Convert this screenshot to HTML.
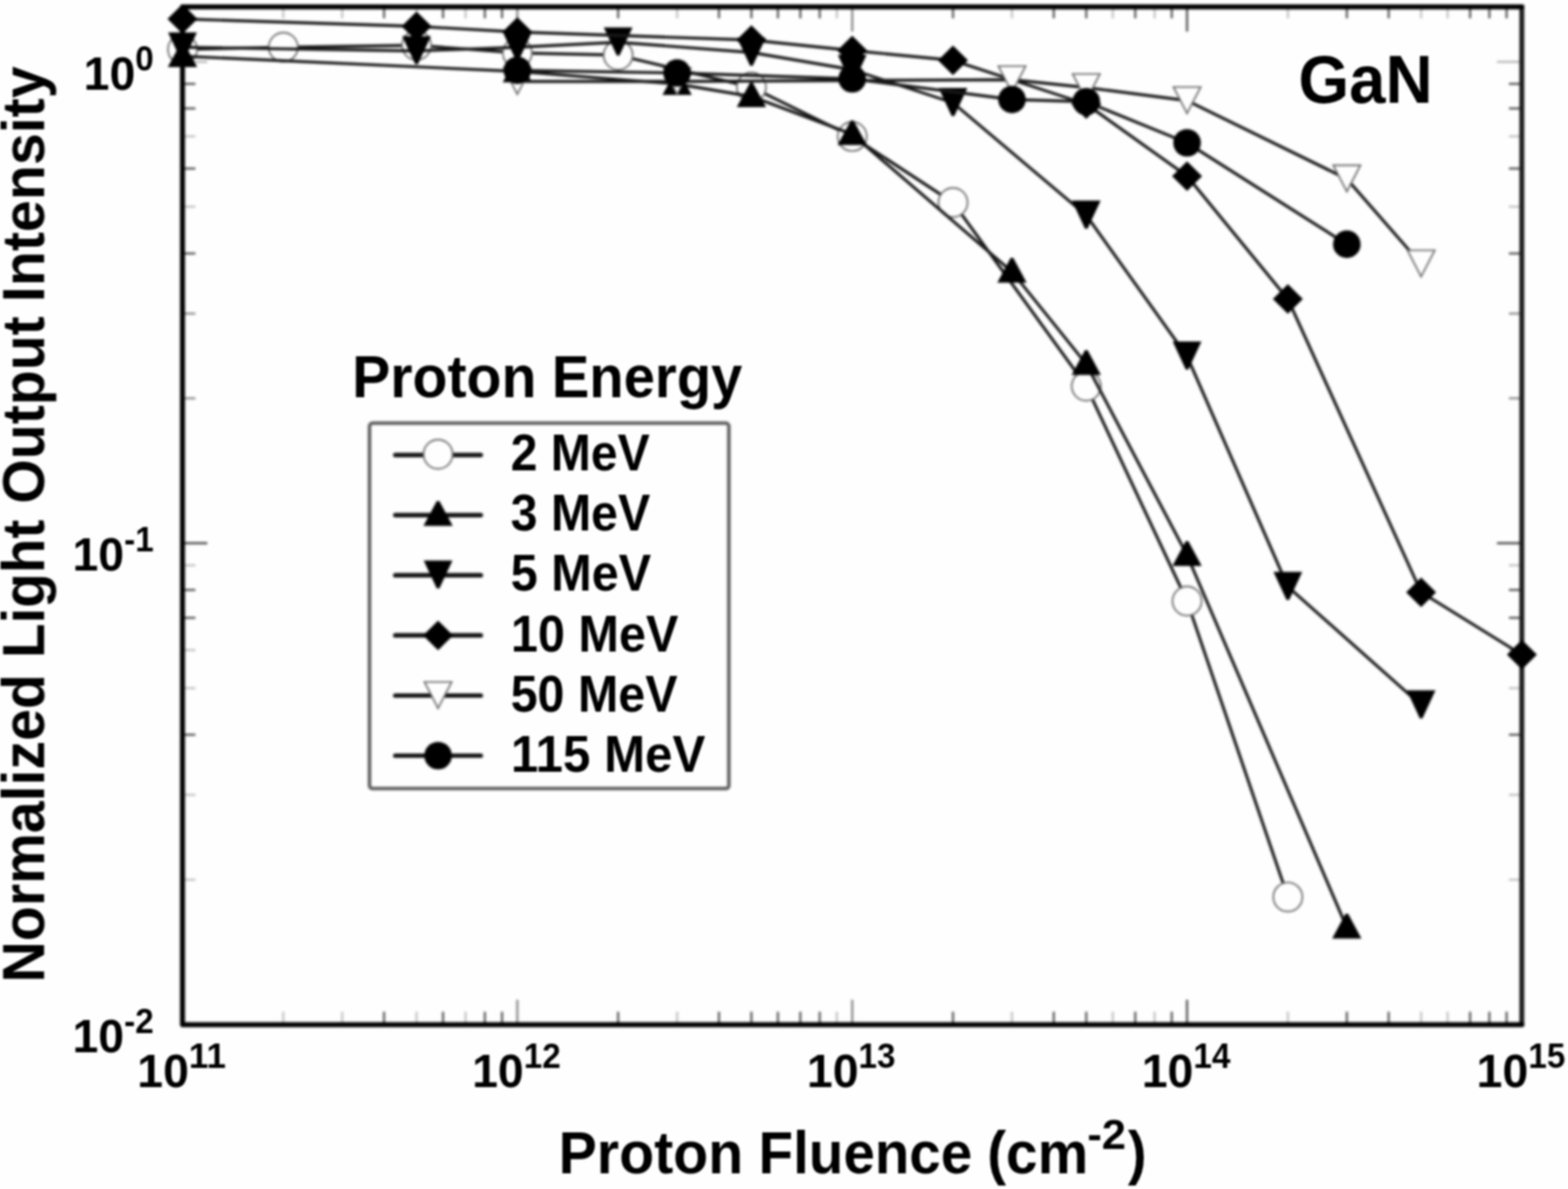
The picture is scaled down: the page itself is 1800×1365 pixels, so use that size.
<!DOCTYPE html>
<html lang="en"><head><meta charset="utf-8"><title>GaN proton fluence</title>
<style>html,body{margin:0;padding:0;background:#fefefe;}body{width:1800px;height:1365px;overflow:hidden;}svg{display:block;}text{font-family:"Liberation Sans",sans-serif;font-weight:bold;fill:#000;}</style>
</head><body>
<svg width="1800" height="1365" viewBox="0 0 1800 1365">
<defs><filter id="b" x="-5%" y="-5%" width="110%" height="110%" color-interpolation-filters="sRGB"><feGaussianBlur stdDeviation="1.4"/></filter>
<filter id="b2" x="-5%" y="-5%" width="110%" height="110%" color-interpolation-filters="sRGB"><feGaussianBlur stdDeviation="1.2"/></filter>
<clipPath id="clip"><rect x="0" y="4.8" width="1800" height="1400"/></clipPath></defs>
<rect width="1800" height="1365" fill="#fefefe"/>
<g filter="url(#b)">
<path d="M325.2 1176.3v-14.8M325.2 7.8v13.2M392.9 1176.3v-14.8M392.9 7.8v13.2M478.2 1176.3v-14.8M478.2 7.8v13.2M534.4 1176.3v-14.8M534.4 7.8v13.2M777.3 1176.3v-14.8M777.3 7.8v13.2M960.7 1176.3v-14.8M960.7 7.8v13.2M1161.7 1176.3v-14.8M1161.7 7.8v13.2M1277.4 1176.3v-14.8M1277.4 7.8v13.2M1325.4 1176.3v-14.8M1325.4 7.8v13.2M1478.4 1176.3v-14.8M1478.4 7.8v13.2M1631.4 1176.3v-14.8M1631.4 7.8v13.2M1661.8 1176.3v-14.8M1661.8 7.8v13.2M209.5 156.6h14.8M1747.0 156.6h-14.8M209.5 237.3h14.8M1747.0 237.3h-14.8M209.5 648.9h14.8M1747.0 648.9h-14.8M209.5 746.2h14.8M1747.0 746.2h-14.8M209.5 789.9h14.8M1747.0 789.9h-14.8M209.5 912.5h14.8M1747.0 912.5h-14.8M209.5 1009.9h14.8M1747.0 1009.9h-14.8" fill="none" stroke="#c4c4c4" stroke-width="2.5"/>
<path d="M209.5 359.9h14.8M1747.0 359.9h-14.8M209.5 457.3h14.8M1747.0 457.3h-14.8" fill="none" stroke="#909090" stroke-width="2.5"/>
<path d="M440.9 1176.3v-14.8M440.9 7.8v13.2M508.6 1176.3v-14.8M508.6 7.8v13.2M556.6 1176.3v-14.8M556.6 7.8v13.2M576.3 1176.3v-14.8M576.3 7.8v13.2M709.6 1176.3v-14.8M709.6 7.8v13.2M825.3 1176.3v-14.8M825.3 7.8v13.2M862.6 1176.3v-14.8M862.6 7.8v13.2M893.0 1176.3v-14.8M893.0 7.8v13.2M918.8 1176.3v-14.8M918.8 7.8v13.2M941.0 1176.3v-14.8M941.0 7.8v13.2M1094.0 1176.3v-14.8M1094.0 7.8v13.2M1209.7 1176.3v-14.8M1209.7 7.8v13.2M1247.0 1176.3v-14.8M1247.0 7.8v13.2M1303.2 1176.3v-14.8M1303.2 7.8v13.2M1345.1 1176.3v-14.8M1345.1 7.8v13.2M1546.1 1176.3v-14.8M1546.1 7.8v13.2M1594.1 1176.3v-14.8M1594.1 7.8v13.2M1687.6 1176.3v-14.8M1687.6 7.8v13.2M1709.8 1176.3v-14.8M1709.8 7.8v13.2M1729.5 1176.3v-14.8M1729.5 7.8v13.2M209.5 96.3h14.8M1747.0 96.3h-14.8M209.5 124.6h14.8M1747.0 124.6h-14.8M209.5 193.6h14.8M1747.0 193.6h-14.8M209.5 290.9h14.8M1747.0 290.9h-14.8M209.5 677.2h14.8M1747.0 677.2h-14.8M209.5 709.2h14.8M1747.0 709.2h-14.8M209.5 843.5h14.8M1747.0 843.5h-14.8" fill="none" stroke="#5a5a5a" stroke-width="2.5"/>
<path d="M209.5 71.0h28.5M1747.0 71.0h-28.5" fill="none" stroke="#b8b8b8" stroke-width="2.6"/>
<path d="M593.9 1176.3v-28.5M593.9 7.8v28.5M978.3 1176.3v-28.5M978.3 7.8v28.5" fill="none" stroke="#8c8c8c" stroke-width="2.6"/>
<path d="M1362.7 1176.3v-28.5M1362.7 7.8v28.5M209.5 623.6h28.5M1747.0 623.6h-28.5" fill="none" stroke="#5a5a5a" stroke-width="2.6"/>
<path d="M1747.0 7.8V1176.3" fill="none" stroke="#1c1c1c" stroke-width="5.6" stroke-linecap="round"/>
<path d="M1747.0 7.8H209.5V1176.3H1747.0" fill="none" stroke="#000" stroke-width="5.7" stroke-linejoin="round" stroke-linecap="round"/>
<g clip-path="url(#clip)">
<polyline points="209.5,56.7 325.2,54.2 478.2,52.0 593.9,60.7 709.6,63.3 862.6,100.0 978.3,156.7 1094.0,232.5 1247.0,443.3 1362.7,690.0 1478.4,1029.8" fill="none" stroke="#181818" stroke-width="3.4" stroke-linejoin="round"/>
<circle cx="209.5" cy="56.7" r="16.7" fill="#fefefe" stroke="#6c6c6c" stroke-width="1.9"/>
<circle cx="325.2" cy="54.2" r="16.7" fill="#fefefe" stroke="#6c6c6c" stroke-width="1.9"/>
<circle cx="478.2" cy="52.0" r="16.7" fill="#fefefe" stroke="#6c6c6c" stroke-width="1.9"/>
<circle cx="593.9" cy="60.7" r="16.7" fill="#fefefe" stroke="#6c6c6c" stroke-width="1.9"/>
<circle cx="709.6" cy="63.3" r="16.7" fill="#fefefe" stroke="#6c6c6c" stroke-width="1.9"/>
<circle cx="862.6" cy="100.0" r="16.7" fill="#fefefe" stroke="#6c6c6c" stroke-width="1.9"/>
<circle cx="978.3" cy="156.7" r="16.7" fill="#fefefe" stroke="#6c6c6c" stroke-width="1.9"/>
<circle cx="1094.0" cy="232.5" r="16.7" fill="#fefefe" stroke="#6c6c6c" stroke-width="1.9"/>
<circle cx="1247.0" cy="443.3" r="16.7" fill="#fefefe" stroke="#6c6c6c" stroke-width="1.9"/>
<circle cx="1362.7" cy="690.0" r="16.7" fill="#fefefe" stroke="#6c6c6c" stroke-width="1.9"/>
<circle cx="1478.4" cy="1029.8" r="16.7" fill="#fefefe" stroke="#6c6c6c" stroke-width="1.9"/>
<polyline points="209.5,64.5 593.9,82.0 777.3,96.5 862.6,110.7 978.3,154.2 1161.7,312.0 1247.0,418.0 1362.7,637.3 1546.1,1065.0" fill="none" stroke="#181818" stroke-width="3.4" stroke-linejoin="round"/>
<path d="M208.0 48.5L211.0 48.5L226.3 76.9L192.7 76.9Z" fill="#000"/>
<path d="M592.4 66.0L595.4 66.0L610.7 94.4L577.1 94.4Z" fill="#000"/>
<path d="M775.8 80.5L778.8 80.5L794.1 108.9L760.5 108.9Z" fill="#000"/>
<path d="M861.1 94.7L864.1 94.7L879.4 123.1L845.8 123.1Z" fill="#000"/>
<path d="M976.8 138.2L979.8 138.2L995.1 166.6L961.5 166.6Z" fill="#000"/>
<path d="M1160.2 296.0L1163.2 296.0L1178.5 324.4L1144.9 324.4Z" fill="#000"/>
<path d="M1245.5 402.0L1248.5 402.0L1263.8 430.4L1230.2 430.4Z" fill="#000"/>
<path d="M1361.2 621.3L1364.2 621.3L1379.5 649.7L1345.9 649.7Z" fill="#000"/>
<path d="M1544.6 1049.0L1547.6 1049.0L1562.9 1077.4L1529.3 1077.4Z" fill="#000"/>
<polyline points="209.5,54.2 478.2,58.5 593.9,54.3 709.6,48.5 862.6,60.2 978.3,80.0 1094.0,118.0 1247.0,247.2 1362.7,409.0 1478.4,673.5 1631.4,809.5" fill="none" stroke="#181818" stroke-width="3.4" stroke-linejoin="round"/>
<path d="M211.0 69.4L208.0 69.4L193.0 37.2L226.0 37.2Z" fill="#000"/>
<path d="M479.7 73.7L476.7 73.7L461.7 41.5L494.7 41.5Z" fill="#000"/>
<path d="M595.4 69.5L592.4 69.5L577.4 37.3L610.4 37.3Z" fill="#000"/>
<path d="M711.1 63.7L708.1 63.7L693.1 31.5L726.1 31.5Z" fill="#000"/>
<path d="M864.1 75.4L861.1 75.4L846.1 43.2L879.1 43.2Z" fill="#000"/>
<path d="M979.8 95.2L976.8 95.2L961.8 63.0L994.8 63.0Z" fill="#000"/>
<path d="M1095.5 133.2L1092.5 133.2L1077.5 101.0L1110.5 101.0Z" fill="#000"/>
<path d="M1248.5 262.4L1245.5 262.4L1230.5 230.2L1263.5 230.2Z" fill="#000"/>
<path d="M1364.2 424.2L1361.2 424.2L1346.2 392.0L1379.2 392.0Z" fill="#000"/>
<path d="M1479.9 688.7L1476.9 688.7L1461.9 656.5L1494.9 656.5Z" fill="#000"/>
<path d="M1632.9 824.7L1629.9 824.7L1614.9 792.5L1647.9 792.5Z" fill="#000"/>
<polyline points="209.5,21.7 478.2,30.3 593.9,36.7 862.6,46.0 978.3,58.0 1094.0,69.3 1247.0,119.5 1362.7,202.2 1478.4,343.3 1631.4,679.9 1747.1,751.6" fill="none" stroke="#181818" stroke-width="3.4" stroke-linejoin="round"/>
<path d="M209.5 4.7L226.7 21.7L209.5 38.7L192.3 21.7Z" fill="#000"/>
<path d="M478.2 13.3L495.4 30.3L478.2 47.3L461.0 30.3Z" fill="#000"/>
<path d="M593.9 19.7L611.1 36.7L593.9 53.7L576.7 36.7Z" fill="#000"/>
<path d="M862.6 29.0L879.8 46.0L862.6 63.0L845.4 46.0Z" fill="#000"/>
<path d="M978.3 41.0L995.5 58.0L978.3 75.0L961.1 58.0Z" fill="#000"/>
<path d="M1094.0 52.3L1111.2 69.3L1094.0 86.3L1076.8 69.3Z" fill="#000"/>
<path d="M1247.0 102.5L1264.2 119.5L1247.0 136.5L1229.8 119.5Z" fill="#000"/>
<path d="M1362.7 185.2L1379.9 202.2L1362.7 219.2L1345.5 202.2Z" fill="#000"/>
<path d="M1478.4 326.3L1495.6 343.3L1478.4 360.3L1461.2 343.3Z" fill="#000"/>
<path d="M1631.4 662.9L1648.6 679.9L1631.4 696.9L1614.2 679.9Z" fill="#000"/>
<path d="M1747.1 734.6L1764.3 751.6L1747.1 768.6L1729.9 751.6Z" fill="#000"/>
<polyline points="593.9,93.5 777.3,93.5 1161.7,91.5 1247.0,100.5 1362.7,115.5 1546.1,205.4 1631.4,303.0" fill="none" stroke="#181818" stroke-width="3.4" stroke-linejoin="round"/>
<path d="M593.9 108.1L609.5 77.9L578.3 77.9Z" fill="#fefefe" stroke="#6c6c6c" stroke-width="1.9" stroke-linejoin="miter"/>
<path d="M777.3 108.1L792.9 77.9L761.7 77.9Z" fill="#fefefe" stroke="#6c6c6c" stroke-width="1.9" stroke-linejoin="miter"/>
<path d="M1161.7 106.1L1177.3 75.9L1146.1 75.9Z" fill="#fefefe" stroke="#6c6c6c" stroke-width="1.9" stroke-linejoin="miter"/>
<path d="M1247.0 115.1L1262.6 84.9L1231.4 84.9Z" fill="#fefefe" stroke="#6c6c6c" stroke-width="1.9" stroke-linejoin="miter"/>
<path d="M1362.7 130.1L1378.3 99.9L1347.1 99.9Z" fill="#fefefe" stroke="#6c6c6c" stroke-width="1.9" stroke-linejoin="miter"/>
<path d="M1546.1 220.0L1561.7 189.8L1530.5 189.8Z" fill="#fefefe" stroke="#6c6c6c" stroke-width="1.9" stroke-linejoin="miter"/>
<path d="M1631.4 317.6L1647.0 287.4L1615.8 287.4Z" fill="#fefefe" stroke="#6c6c6c" stroke-width="1.9" stroke-linejoin="miter"/>
<polyline points="593.9,80.7 777.3,83.8 978.3,90.5 1161.7,114.2 1247.0,116.7 1362.7,164.0 1546.1,280.4" fill="none" stroke="#181818" stroke-width="3.4" stroke-linejoin="round"/>
<circle cx="593.9" cy="80.7" r="15.8" fill="#000"/>
<circle cx="777.3" cy="83.8" r="15.8" fill="#000"/>
<circle cx="978.3" cy="90.5" r="15.8" fill="#000"/>
<circle cx="1161.7" cy="114.2" r="15.8" fill="#000"/>
<circle cx="1247.0" cy="116.7" r="15.8" fill="#000"/>
<circle cx="1362.7" cy="164.0" r="15.8" fill="#000"/>
<circle cx="1546.1" cy="280.4" r="15.8" fill="#000"/>
</g>
<rect x="424.2" y="485.8" width="412.5" height="419.5" rx="3.5" fill="none" stroke="#5e5e5e" stroke-width="4.0"/>
<path d="M453.8 522.3H551.9" stroke="#141414" stroke-width="5.2" stroke-linecap="round"/>
<circle cx="502.9" cy="521.5" r="16.7" fill="#fefefe" stroke="#6c6c6c" stroke-width="1.9"/>
<path d="M453.8 591.3H551.9" stroke="#141414" stroke-width="5.2" stroke-linecap="round"/>
<path d="M501.4 575.3L504.4 575.3L519.7 603.7L486.1 603.7Z" fill="#000"/>
<path d="M453.8 660.4H551.9" stroke="#141414" stroke-width="5.2" stroke-linecap="round"/>
<path d="M504.4 675.6L501.4 675.6L486.4 643.4L519.4 643.4Z" fill="#000"/>
<path d="M453.8 729.4H551.9" stroke="#141414" stroke-width="5.2" stroke-linecap="round"/>
<path d="M502.9 712.4L520.1 729.4L502.9 746.4L485.7 729.4Z" fill="#000"/>
<path d="M453.8 798.5H551.9" stroke="#141414" stroke-width="5.2" stroke-linecap="round"/>
<path d="M502.9 813.1L518.5 782.9L487.3 782.9Z" fill="#fefefe" stroke="#6c6c6c" stroke-width="1.9" stroke-linejoin="miter"/>
<path d="M453.8 867.5H551.9" stroke="#141414" stroke-width="5.2" stroke-linecap="round"/>
<circle cx="502.9" cy="867.5" r="15.8" fill="#000"/>
</g>
<g filter="url(#b2)">
<text font-size="60.0"><tspan x="586.16" y="540.10" textLength="159.73" lengthAdjust="spacingAndGlyphs">2 MeV</tspan></text>
<text font-size="60.0"><tspan x="586.15" y="609.30" textLength="160.24" lengthAdjust="spacingAndGlyphs">3 MeV</tspan></text>
<text font-size="60.0"><tspan x="586.14" y="678.40" textLength="161.25" lengthAdjust="spacingAndGlyphs">5 MeV</tspan></text>
<text font-size="60.0"><tspan x="586.48" y="747.50" textLength="192.25" lengthAdjust="spacingAndGlyphs">10 MeV</tspan></text>
<text font-size="60.0"><tspan x="586.15" y="816.60" textLength="191.58" lengthAdjust="spacingAndGlyphs">50 MeV</tspan></text>
<text font-size="60.0"><tspan x="586.53" y="885.80" textLength="223.27" lengthAdjust="spacingAndGlyphs">115 MeV</tspan></text>
<text font-size="68.5"><tspan x="404.21" y="456.40" textLength="211.59" lengthAdjust="spacingAndGlyphs">Proton</tspan> <tspan x="633.59" y="456.40" textLength="218.63" lengthAdjust="spacingAndGlyphs">Energy</tspan></text>
<text font-size="78.5"><tspan x="1490.44" y="118.00" textLength="154.14" lengthAdjust="spacingAndGlyphs">GaN</tspan></text>
<text font-size="68.5"><tspan x="641.20" y="1347.30" textLength="212.01" lengthAdjust="spacingAndGlyphs">Proton</tspan> <tspan x="870.86" y="1347.30" textLength="245.14" lengthAdjust="spacingAndGlyphs">Fluence</tspan> <tspan x="1133.14" y="1347.30" textLength="116.11" lengthAdjust="spacingAndGlyphs">(cm</tspan><tspan x="1248.22" y="1318.50" textLength="44.44" lengthAdjust="spacingAndGlyphs" font-size="48">-2</tspan><tspan x="1294.70" y="1347.30" textLength="21.49" lengthAdjust="spacingAndGlyphs">)</tspan></text>
<text transform="translate(50.6 0) rotate(-90)" font-size="68.5"><tspan x="-1127.89" y="0" textLength="353.95" lengthAdjust="spacingAndGlyphs">Normalized</tspan> <tspan x="-755.55" y="0" textLength="159.06" lengthAdjust="spacingAndGlyphs">Light</tspan> <tspan x="-578.28" y="0" textLength="215.26" lengthAdjust="spacingAndGlyphs">Output</tspan> <tspan x="-346.91" y="0" textLength="270.85" lengthAdjust="spacingAndGlyphs">Intensity</tspan></text>
<text x="157.5" y="1247.5" font-size="53.3" textLength="59.3" lengthAdjust="spacingAndGlyphs">10</text>
<text x="216.8" y="1225.5" font-size="40.7" textLength="42.5" lengthAdjust="spacingAndGlyphs">11</text>
<text x="541.9" y="1247.5" font-size="53.3" textLength="59.3" lengthAdjust="spacingAndGlyphs">10</text>
<text x="601.2" y="1225.5" font-size="40.7" textLength="42.5" lengthAdjust="spacingAndGlyphs">12</text>
<text x="926.3" y="1247.5" font-size="53.3" textLength="59.3" lengthAdjust="spacingAndGlyphs">10</text>
<text x="985.6" y="1225.5" font-size="40.7" textLength="42.5" lengthAdjust="spacingAndGlyphs">13</text>
<text x="1310.7" y="1247.5" font-size="53.3" textLength="59.3" lengthAdjust="spacingAndGlyphs">10</text>
<text x="1370.0" y="1225.5" font-size="40.7" textLength="42.5" lengthAdjust="spacingAndGlyphs">14</text>
<text x="1695.1" y="1247.5" font-size="53.3" textLength="59.3" lengthAdjust="spacingAndGlyphs">10</text>
<text x="1754.4" y="1225.5" font-size="40.7" textLength="42.5" lengthAdjust="spacingAndGlyphs">15</text>
<text x="96.0" y="102.8" font-size="53.3" textLength="59.3" lengthAdjust="spacingAndGlyphs">10</text>
<text x="155.3" y="80.8" font-size="40.7" textLength="21.2" lengthAdjust="spacingAndGlyphs">0</text>
<text x="83.2" y="655.4" font-size="53.3" textLength="59.3" lengthAdjust="spacingAndGlyphs">10</text>
<text x="142.5" y="633.4" font-size="40.7" textLength="34.0" lengthAdjust="spacingAndGlyphs">-1</text>
<text x="83.2" y="1208.3" font-size="53.3" textLength="59.3" lengthAdjust="spacingAndGlyphs">10</text>
<text x="142.5" y="1186.3" font-size="40.7" textLength="34.0" lengthAdjust="spacingAndGlyphs">-2</text>
</g>
</svg></body></html>
